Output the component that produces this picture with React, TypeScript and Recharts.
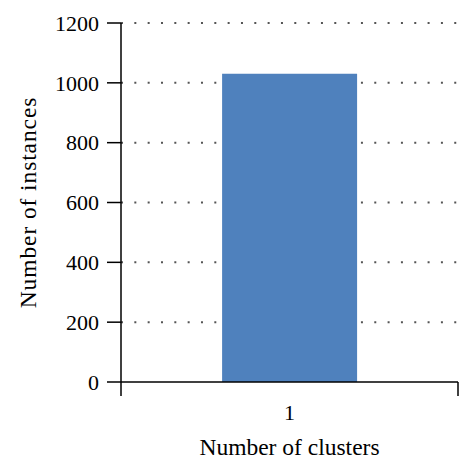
import React from 'react';
import { BarChart, Bar, XAxis, YAxis, CartesianGrid } from 'recharts';

const CLUSTERS = ['1'];
const INSTANCES = [1030];
const Y_TICKS = [0, 200, 400, 600, 800, 1000, 1200];

const data = CLUSTERS.map((cluster, i) => ({ cluster, instances: INSTANCES[i] }));

const WIDTH = 474;
const HEIGHT = 474;
const MARGIN = { top: 23, right: 16, left: 0, bottom: 0 };
const Y_AXIS_WIDTH = 121;
const X_TICK_SIZE = 14;
const PLOT_LEFT = MARGIN.left + Y_AXIS_WIDTH;
const PLOT_RIGHT = WIDTH - MARGIN.right;
const FONT = '"Liberation Serif", "Times New Roman", serif';

// category tick: label in the middle, tick marks on the band edges (like the original)
const ClusterTick = (props: any) => {
  const { x, y, payload } = props;
  return (
    <g>
      <line x1={PLOT_LEFT} x2={PLOT_LEFT} y1={y - X_TICK_SIZE} y2={y} stroke="#000" strokeWidth={1.5} />
      <line x1={PLOT_RIGHT} x2={PLOT_RIGHT} y1={y - X_TICK_SIZE} y2={y} stroke="#000" strokeWidth={1.5} />
      <text x={x} y={y} dy={24} textAnchor="middle" fill="#000" fontSize={22} fontFamily={FONT}>
        {payload.value}
      </text>
    </g>
  );
};

export default function App() {
  return (
    <div style={{ position: 'absolute', left: 0, top: 0, background: '#fff' }}>
      <BarChart width={WIDTH} height={HEIGHT} data={data} margin={MARGIN} barCategoryGap="30%">
        <CartesianGrid
          vertical={false}
          horizontalValues={Y_TICKS.slice(1)}
          stroke="#555"
          strokeWidth={2}
          strokeDasharray="2 11.33"
        />
        <XAxis
          dataKey="cluster"
          height={92}
          tickSize={X_TICK_SIZE}
          tickMargin={0}
          tickLine={false}
          axisLine={{ stroke: '#000', strokeWidth: 1.5 }}
          tick={<ClusterTick />}
          label={{
            value: 'Number of clusters',
            position: 'insideBottom',
            offset: 19,
            fill: '#000',
            fontSize: 23.5,
            fontFamily: FONT,
          }}
        />
        <YAxis
          width={Y_AXIS_WIDTH}
          domain={[0, 1200]}
          ticks={Y_TICKS}
          tickSize={14}
          tickMargin={8}
          axisLine={{ stroke: '#000', strokeWidth: 1.5 }}
          tickLine={{ stroke: '#000', strokeWidth: 1.5 }}
          tick={{ fill: '#000', fontSize: 22, fontFamily: FONT }}
          label={{
            value: 'Number of instances',
            angle: -90,
            position: 'insideLeft',
            offset: 28,
            fill: '#000',
            fontSize: 23.5,
            fontFamily: FONT,
            letterSpacing: 0.9,
            style: { textAnchor: 'middle' },
          }}
        />
        <Bar dataKey="instances" fill="#4f81bd" isAnimationActive={false} />
      </BarChart>
    </div>
  );
}
